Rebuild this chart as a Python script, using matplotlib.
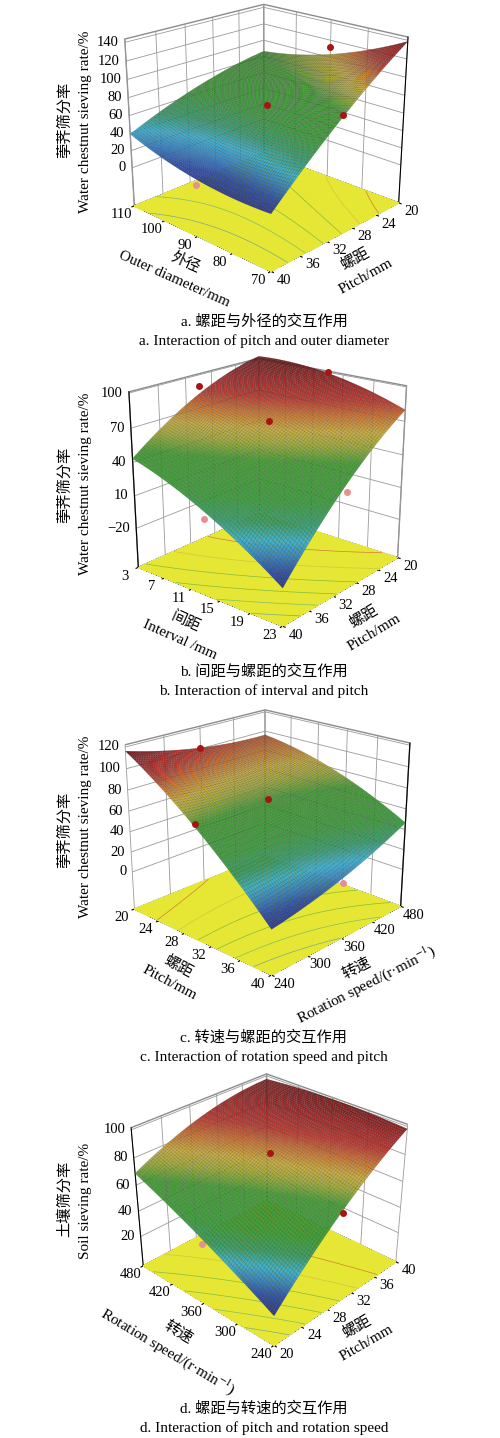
import numpy as np
import matplotlib
matplotlib.use('Agg')
import matplotlib.pyplot as plt
from matplotlib.colors import LinearSegmentedColormap, Normalize
from mpl_toolkits.mplot3d import proj3d

plt.rcParams['font.family'] = ['Liberation Serif', 'Noto Sans CJK SC']
plt.rcParams['mathtext.fontset'] = 'stix'

# ---------------- data ----------------
# Panel a: outer diameter x pitch -> water chestnut sieving rate
a_od = [70, 90, 110]
a_pitch = [20, 30, 40]
a_z = [[136, 86, 16],
       [106, 70, 14],
       [87, 65, 43]]
a_pts_od = [90, 70, 90, 90]
a_pts_pitch = [20, 30, 40, 30]
a_pts_z = [112, 86, 12, 70]
a_pts_behind = [False, False, True, False]

# Panel b: pitch x interval -> water chestnut sieving rate
b_pitch = [20, 30, 40]
b_interval = [3, 13, 23]
b_z = [[103, 97, 82],
       [82, 73, 33],
       [44, 14, -22]]
b_pts_pitch = [30, 20, 30, 40, 30]
b_pts_interval = [3, 13, 23, 13, 13]
b_pts_z = [90, 100, 30, 10, 73]
b_pts_behind = [False, False, True, True, False]

# Panel c: pitch x rotation speed -> water chestnut sieving rate
c_pitch = [20, 30, 40]
c_speed = [240, 360, 480]
c_z = [[115, 100, 98],
       [70, 71, 75],
       [3, 18, 49]]
c_pts_pitch = [20, 30, 40, 30]
c_pts_speed = [360, 240, 360, 360]
c_pts_z = [101, 71, 15, 71]
c_pts_behind = [False, False, True, False]

# Panel d: pitch x rotation speed -> soil sieving rate
d_pitch = [20, 30, 40]
d_speed = [240, 360, 480]
d_z = [[20, 44, 69],
       [63, 82, 90],
       [99, 100, 97]]
d_pts_pitch = [30, 20, 30]
d_pts_speed = [240, 360, 360]
d_pts_z = [63, 42, 82]
d_pts_behind = [False, True, False]

# tick values
a_zticks = [0, 20, 40, 60, 80, 100, 120, 140]
b_zticks = [-20, 10, 40, 70, 100]
c_zticks = [0, 20, 40, 60, 80, 100, 120]
d_zticks = [20, 40, 60, 80, 100]
od_ticks = [70, 80, 90, 100, 110]
pitch_ticks = [20, 24, 28, 32, 36, 40]
interval_ticks = [3, 7, 11, 15, 19, 23]
speed_ticks = [240, 300, 360, 420, 480]

# ---------------- helpers ----------------
cmap = LinearSegmentedColormap.from_list('de', [
    (0.00, '#303c96'), (0.08, '#3050b0'), (0.16, '#3c8cc8'),
    (0.22, '#40b4d4'), (0.30, '#3ca070'), (0.40, '#40a040'),
    (0.58, '#48a038'), (0.66, '#a4ae3c'), (0.72, '#ccb040'),
    (0.79, '#d07a34'), (0.86, '#c03a30'), (0.93, '#a82828'),
    (1.00, '#7c1a1a')])
FLOOR = '#e6e634'
W, H = 500.0, 1438.0


def quad_surface(u_lv, v_lv, zg, n=70):
    u_lv = np.asarray(u_lv, float)
    v_lv = np.asarray(v_lv, float)
    zg = np.asarray(zg, float)
    uc0, uh = u_lv.mean(), (u_lv.max() - u_lv.min()) / 2
    vc0, vh = v_lv.mean(), (v_lv.max() - v_lv.min()) / 2
    U, V = np.meshgrid(u_lv, v_lv, indexing='ij')
    cu, cv = (U - uc0) / uh, (V - vc0) / vh
    A = np.column_stack([np.ones(cu.size), cu.ravel(), cv.ravel(),
                         (cu * cv).ravel(), (cu ** 2).ravel(), (cv ** 2).ravel()])
    coef, *_ = np.linalg.lstsq(A, zg.ravel(), rcond=None)
    uu = np.linspace(u_lv.min(), u_lv.max(), n)
    vv = np.linspace(v_lv.min(), v_lv.max(), n)
    UU, VV = np.meshgrid(uu, vv, indexing='ij')
    a, b = (UU - uc0) / uh, (VV - vc0) / vh
    ZZ = coef[0] + coef[1] * a + coef[2] * b + coef[3] * a * b + coef[4] * a ** 2 + coef[5] * b ** 2
    return UU, VV, ZZ


def ftext(x, y, s, rot=0, size=11, **kw):
    fig.text(x / W, 1 - y / H, s, rotation=rot, fontsize=size,
             ha='center', va='center', rotation_mode='anchor', **kw)


label_jobs = []   # (ax, list of (x, y, z, text, dx, dy, ha))


def panel(cx, cy, xs, ys, zg, zlim, azim, elev, zasp, zoom,
          px, py, pz, pbehind, xticks, yticks, zticks, left, right, corner):
    w = h = 440
    ax = fig.add_axes([(cx - w / 2) / W, 1 - (cy + h / 2) / H, w / W, h / H],
                      projection='3d', computed_zorder=False)
    ax.set_facecolor((1, 1, 1, 0))
    X, Y, Z = quad_surface(xs, ys, zg)
    norm = Normalize(Z.min(), Z.max())
    ax.contourf(X, Y, Z, levels=[Z.min() - 1, Z.max() + 1], colors=[FLOOR],
                zdir='z', offset=zlim[0], zorder=1)
    ax.contour(X, Y, Z, levels=np.linspace(Z.min(), Z.max(), 8)[1:-1],
               cmap=cmap, norm=norm, zdir='z', offset=zlim[0],
               linewidths=0.5, alpha=0.6, zorder=2)
    ax.plot_surface(X, Y, Z, facecolors=cmap(norm(Z)), shade=False,
                    rstride=1, cstride=1, edgecolor=(0.05, 0.05, 0.05, 0.32),
                    linewidth=0.25, antialiased=True, zorder=3)
    for x0, y0, z0, hid in zip(px, py, pz, pbehind):
        ax.scatter([x0], [y0], [z0], s=16, color='#e89090' if hid else '#a81414',
                   depthshade=False, zorder=2.5 if hid else 4)
    ax.set_xlim(min(xs), max(xs))
    ax.set_ylim(min(ys), max(ys))
    ax.set_zlim(*zlim)
    ax.set_xticks(xticks)
    ax.set_yticks(yticks)
    ax.set_zticks(zticks)
    for axis in (ax.xaxis, ax.yaxis, ax.zaxis):
        axis.set_tick_params(labelleft=False, labelright=False)
        axis.set_pane_color((1, 1, 1, 1))
        axis.pane.set_edgecolor('#8c8c8c')
        axis._axinfo['grid']['color'] = '#9a9a9a'
        axis._axinfo['grid']['linewidth'] = 0.6
        axis._axinfo['axisline']['color'] = '#8c8c8c'
        axis._axinfo['tick']['color'] = 'k'
    ax.zaxis._axinfo['tick']['inward_factor'] = 0
    ax.zaxis._axinfo['tick']['outward_factor'] = 0
    ax.view_init(elev=elev, azim=azim)
    ax.set_proj_type('persp', focal_length=0.54 * zoom)
    ax.set_box_aspect((1, 1, zasp), zoom=zoom)

    jobs = []
    z0 = zlim[0]
    for which, fixed, dx, dy in (left + (-13, -9), right + (13, -9)):
        vals = xticks if which == 'x' else yticks
        for v in vals:
            p = (v, fixed) if which == 'x' else (fixed, v)
            jobs.append((p[0], p[1], z0, str(v), dx, dy, 'center'))
    for zt in zticks:
        jobs.append((corner[0], corner[1], zt, str(zt).replace('-', '\u2212'),
                     -6, 0, 'right'))
    label_jobs.append((ax, jobs))
    return ax


fig = plt.figure(figsize=(5.0, 14.38), dpi=100)

# ---- panel a ----
panel(261, 130, a_od, a_pitch, a_z, (-45.5, 143.5), 133.5, 21, 0.92, 0.72,
      a_pts_od, a_pts_pitch, a_pts_z, a_pts_behind,
      od_ticks, pitch_ticks, a_zticks, ('x', 40), ('y', 70), (110, 40))
ftext(65, 120, '荸荠筛分率', 90)
ftext(85, 122, 'Water chestnut sieving rate/%', 90)
ftext(185, 263, '外径', -24)
ftext(174, 279, 'Outer diameter/mm', -24)
ftext(355, 259, '螺距', 29)
ftext(366, 277, 'Pitch/mm', 29)

# ---- panel b ----
panel(263.5, 484.5, b_pitch, b_interval, b_z, (-57, 101), 40, 20, 0.97, 0.72,
      b_pts_pitch, b_pts_interval, b_pts_z, b_pts_behind,
      pitch_ticks, interval_ticks, b_zticks, ('y', 40), ('x', 23), (40, 3))
ftext(65, 485, '荸荠筛分率', 90)
ftext(85, 484, 'Water chestnut sieving rate/%', 90)
ftext(186, 622, '间距', -24)
ftext(180, 640, 'Interval /mm', -24)
ftext(364, 617, '螺距', 31)
ftext(374, 633, 'Pitch/mm', 31)

# ---- panel c ----
panel(262, 834.5, c_pitch, c_speed, c_z, (-38, 122), -46.3, 21, 0.90, 0.72,
      c_pts_pitch, c_pts_speed, c_pts_z, c_pts_behind,
      pitch_ticks, speed_ticks, c_zticks, ('x', 240), ('y', 40), (20, 240))
ftext(65, 830, '荸荠筛分率', 90)
ftext(85, 827, 'Water chestnut sieving rate/%', 90)
ftext(178, 967, '螺距', -28)
ftext(169, 983, 'Pitch/mm', -28)
ftext(357, 968, '转速', 27)
ftext(366, 984, 'Rotation speed/(r·min$^{-1}$)', 27)

# ---- panel d ----
panel(264, 1204, d_pitch, d_speed, d_z, (-4, 101.5), -136.6, 30, 0.85, 0.68,
      d_pts_pitch, d_pts_speed, d_pts_z, d_pts_behind,
      pitch_ticks, speed_ticks, d_zticks, ('y', 20), ('x', 240), (20, 480))
ftext(65, 1199, '土壤筛分率', 90)
ftext(85, 1201, 'Soil sieving rate/%', 90)
ftext(178, 1332, '转速', -31)
ftext(168, 1351, 'Rotation speed/(r·min$^{-1}$)', -31)
ftext(357, 1327, '螺距', 30)
ftext(367, 1343, 'Pitch/mm', 30)

caps = [(322, 'a. 螺距与外径的交互作用', 'a. Interaction of pitch and outer diameter'),
        (672, 'b. 间距与螺距的交互作用', 'b. Interaction of interval and pitch'),
        (1038, 'c. 转速与螺距的交互作用', 'c. Interaction of rotation speed and pitch'),
        (1409, 'd. 螺距与转速的交互作用', 'd. Interaction of pitch and rotation speed')]
for y, zh, en in caps:
    ftext(264, y, zh)
    ftext(264, y + 19, en)

# tick labels: project the box edges through each axes' own projection
fig.canvas.draw()
for ax, jobs in label_jobs:
    M = ax.get_proj()
    for x, y, z, s, dx, dy, ha in jobs:
        xp, yp, _ = proj3d.proj_transform(x, y, z, M)
        px_, py_ = ax.transData.transform((xp, yp))
        fig.text((px_ + dx) / fig.bbox.width, (py_ + dy) / fig.bbox.height, s,
                 ha=ha, va='center', fontsize=10.5)

fig.savefig('out.png', dpi=100, facecolor='white')
